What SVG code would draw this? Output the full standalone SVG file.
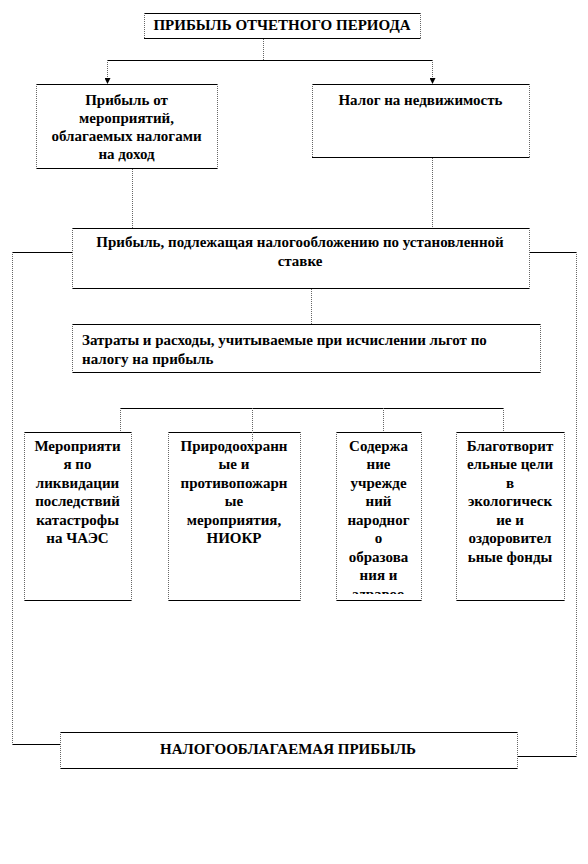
<svg xmlns="http://www.w3.org/2000/svg" width="588" height="864" viewBox="0 0 588 864">
<style>
.bg{fill:#fff}
.bh{stroke:#000;stroke-width:1;fill:none}
.bv{stroke:#666;stroke-width:1;stroke-dasharray:1 1;fill:none}
.t{font-family:"Liberation Serif","Times New Roman",serif;font-size:15px;font-weight:bold;fill:#000}
.c{text-anchor:middle}
</style>
<defs>
<marker id="arr" markerUnits="userSpaceOnUse" markerWidth="6" markerHeight="6" refX="6" refY="3" orient="auto">
<path d="M0,0 L6,3 L0,6 z" fill="#000"/>
</marker>
<clipPath id="clip3"><rect x="336" y="432" width="85" height="162"/></clipPath>
</defs>
<rect class="bg" x="0" y="0" width="588" height="864"/>

<g id="n-top">
<rect class="bg" x="144" y="13" width="276" height="25"/>
<path class="bh" d="M144 13.5H420.5M144 38.5H420.5"/>
<path class="bv" d="M144.5 13V39M420.5 13V39"/>
<text class="t c" x="282" y="30">ПРИБЫЛЬ ОТЧЕТНОГО ПЕРИОДА</text>
</g>

<g id="n-left">
<rect class="bg" x="36" y="84" width="181" height="84"/>
<path class="bh" d="M36 84.5H217.5M36 168.5H217.5"/>
<path class="bv" d="M36.5 84V169M217.5 84V169"/>
<text class="t c"><tspan x="126.5" y="105">Прибыль от</tspan><tspan x="126.5" y="123">мероприятий,</tspan><tspan x="126.5" y="141">облагаемых налогами</tspan><tspan x="126.5" y="159">на доход</tspan></text>
</g>

<g id="n-right">
<rect class="bg" x="312" y="84" width="217" height="73"/>
<path class="bh" d="M312 84.5H529.5M312 157.5H529.5"/>
<path class="bv" d="M312.5 84V158M529.5 84V158"/>
<text class="t c" x="420.5" y="105">Налог на недвижимость</text>
</g>

<g id="n-base">
<rect class="bg" x="72" y="228" width="457" height="60"/>
<path class="bh" d="M72 228.5H529.5M72 288.5H529.5"/>
<path class="bv" d="M72.5 228V289M529.5 228V289"/>
<text class="t c"><tspan x="300" y="247">Прибыль, подлежащая  налогообложению по установленной</tspan><tspan x="300" y="265.5">ставке</tspan></text>
</g>

<g id="n-costs">
<rect class="bg" x="72" y="324" width="468" height="48"/>
<path class="bh" d="M72 324.5H540.5M72 372.5H540.5"/>
<path class="bv" d="M72.5 324V373M540.5 324V373"/>
<text class="t"><tspan x="82" y="345">Затраты и расходы, учитываемые при исчислении льгот по</tspan><tspan x="82" y="363.5">налогу на прибыль</tspan></text>
</g>

<g id="n-b1">
<rect class="bg" x="24" y="432" width="107" height="168"/>
<path class="bh" d="M24 432.5H131.5M24 600.5H131.5"/>
<path class="bv" d="M24.5 432V601M131.5 432V601"/>
<text class="t c"><tspan x="77.5" y="450.5">Мероприяти</tspan><tspan x="77.5" y="469">я по</tspan><tspan x="77.5" y="487.5">ликвидации</tspan><tspan x="77.5" y="506">последствий</tspan><tspan x="77.5" y="524.5">катастрофы</tspan><tspan x="77.5" y="543">на ЧАЭС</tspan></text>
</g>

<g id="n-b2">
<rect class="bg" x="168" y="432" width="132" height="168"/>
<path class="bh" d="M168 432.5H300.5M168 600.5H300.5"/>
<path class="bv" d="M168.5 432V601M300.5 432V601"/>
<text class="t c"><tspan x="234" y="450.5">Природоохранн</tspan><tspan x="234" y="469">ые и</tspan><tspan x="234" y="487.5">противопожарн</tspan><tspan x="234" y="506">ые</tspan><tspan x="234" y="524.5">мероприятия,</tspan><tspan x="234" y="543">НИОКР</tspan></text>
</g>

<g id="n-b3">
<rect class="bg" x="336" y="432" width="85" height="168"/>
<path class="bh" d="M336 432.5H421.5M336 600.5H421.5"/>
<path class="bv" d="M336.5 432V601M421.5 432V601"/>
<text class="t c" clip-path="url(#clip3)"><tspan x="378.5" y="450.5">Содержа</tspan><tspan x="378.5" y="469">ние</tspan><tspan x="378.5" y="487.5">учрежде</tspan><tspan x="378.5" y="506">ний</tspan><tspan x="378.5" y="524.5">народног</tspan><tspan x="378.5" y="543">о</tspan><tspan x="378.5" y="561.5">образова</tspan><tspan x="378.5" y="580">ния и</tspan><tspan x="378.5" y="598.5">здравоо</tspan></text>
</g>

<g id="n-b4">
<rect class="bg" x="456" y="432" width="108" height="168"/>
<path class="bh" d="M456 432.5H564.5M456 600.5H564.5"/>
<path class="bv" d="M456.5 432V601M564.5 432V601"/>
<text class="t c"><tspan x="510" y="450.5">Благотворит</tspan><tspan x="510" y="469">ельные цели</tspan><tspan x="510" y="487.5">в</tspan><tspan x="510" y="506">экологическ</tspan><tspan x="510" y="524.5">ие и</tspan><tspan x="510" y="543">оздоровител</tspan><tspan x="510" y="561.5">ьные фонды</tspan></text>
</g>

<g id="n-final">
<rect class="bg" x="60" y="732" width="457" height="36"/>
<path class="bh" d="M60 732.5H517.5M60 768.5H517.5"/>
<path class="bv" d="M60.5 732V769M517.5 732V769"/>
<text class="t c" x="288" y="754">НАЛОГООБЛАГАЕМАЯ ПРИБЫЛЬ</text>
</g>

<g id="connectors">
<path class="bh" d="M107 60.5H433M72 252.5H12M12 744.5H60M530 252.5H577M577 756.5H518M120 408.5H504"/>
<path class="bv" d="M263.5 39V60M132.5 169V228M432.5 158V228M12.5 252V745M576.5 252V757M311.5 289V324M120.5 408V432M252.5 408V441M383.5 408V432M503.5 408V432"/>
<path class="bv" d="M107.5 60V84" marker-end="url(#arr)"/>
<path class="bv" d="M432.5 60V84" marker-end="url(#arr)"/>
</g>
</svg>
